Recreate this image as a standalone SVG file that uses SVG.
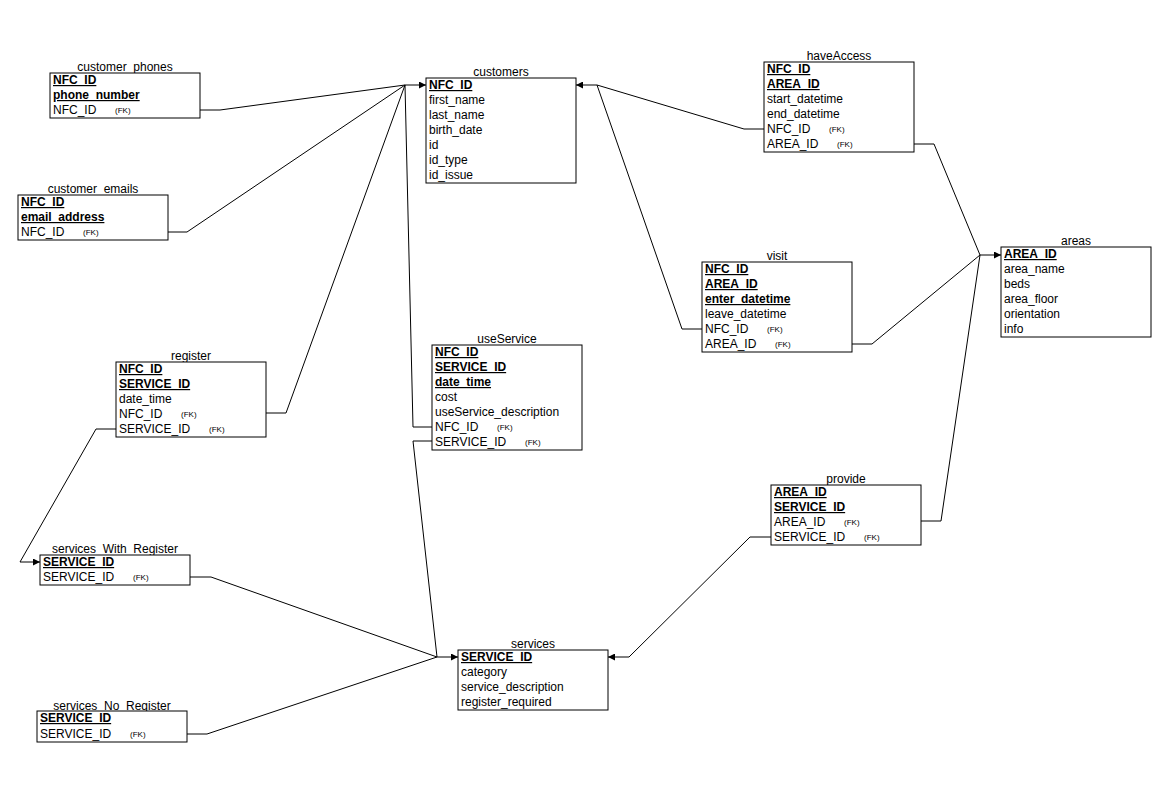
<svg xmlns="http://www.w3.org/2000/svg" width="1166" height="788" viewBox="0 0 1166 788">
<style>
text{font-family:"Liberation Sans",Arial,sans-serif;font-size:12px;fill:#000}
.t{text-anchor:middle}
.k{font-weight:bold;text-decoration:underline}
.fk{font-size:8px}
rect{fill:#fff;stroke:#000;stroke-width:1}
.c path{fill:none;stroke:#000;stroke-width:1}
</style>
<defs><marker id="a" viewBox="0 0 8 8" refX="8" refY="4" markerWidth="7" markerHeight="7" orient="auto" markerUnits="userSpaceOnUse"><path d="M0,0L8,4L0,8z" fill="#000"/></marker></defs>
<rect x="0" y="0" width="1166" height="788" style="stroke:none"/>
<g class="c">
<path d="M200,110H220L405,85H426" marker-end="url(#a)"/>
<path d="M168,232H187L405,85"/>
<path d="M266,413H286L405,85"/>
<path d="M432,427H413L405,85"/>
<path d="M764,129H744L597,85H576" marker-end="url(#a)"/>
<path d="M702,329H682L597,85"/>
<path d="M914,144H934L980,255H1001" marker-end="url(#a)"/>
<path d="M852,344H872L980,255"/>
<path d="M921,521H941L980,255"/>
<path d="M116,429H96L20,562H40" marker-end="url(#a)"/>
<path d="M432,441H413L437,657H458" marker-end="url(#a)"/>
<path d="M190,577H211L437,657"/>
<path d="M187,734H207L437,657"/>
<path d="M771,537H750L629,657H608" marker-end="url(#a)"/>
</g>
<g id="customer_phones"><text class="t" x="125" y="71">customer_phones</text><rect x="50" y="73" width="150" height="45"/>
<text class="k" x="53" y="84">NFC_ID</text><text class="k" x="53" y="99">phone_number</text><text x="53" y="114">NFC_ID</text><text class="fk" x="115" y="113">(FK)</text></g>
<g id="customer_emails"><text class="t" x="93" y="193">customer_emails</text><rect x="18" y="195" width="150" height="45"/>
<text class="k" x="21" y="206">NFC_ID</text><text class="k" x="21" y="221">email_address</text><text x="21" y="236">NFC_ID</text><text class="fk" x="83" y="235">(FK)</text></g>
<g id="customers"><text class="t" x="501" y="76">customers</text><rect x="426" y="78" width="150" height="105"/>
<text class="k" x="429" y="89">NFC_ID</text><text x="429" y="104">first_name</text><text x="429" y="119">last_name</text><text x="429" y="134">birth_date</text><text x="429" y="149">id</text><text x="429" y="164">id_type</text><text x="429" y="179">id_issue</text></g>
<g id="haveAccess"><text class="t" x="839" y="60">haveAccess</text><rect x="764" y="62" width="150" height="90"/>
<text class="k" x="767" y="73">NFC_ID</text><text class="k" x="767" y="88">AREA_ID</text><text x="767" y="103">start_datetime</text><text x="767" y="118">end_datetime</text><text x="767" y="133">NFC_ID</text><text class="fk" x="829" y="132">(FK)</text><text x="767" y="148">AREA_ID</text><text class="fk" x="837" y="147">(FK)</text></g>
<g id="visit"><text class="t" x="777" y="260">visit</text><rect x="702" y="262" width="150" height="90"/>
<text class="k" x="705" y="273">NFC_ID</text><text class="k" x="705" y="288">AREA_ID</text><text class="k" x="705" y="303">enter_datetime</text><text x="705" y="318">leave_datetime</text><text x="705" y="333">NFC_ID</text><text class="fk" x="767" y="332">(FK)</text><text x="705" y="348">AREA_ID</text><text class="fk" x="775" y="347">(FK)</text></g>
<g id="areas"><text class="t" x="1076" y="245">areas</text><rect x="1001" y="247" width="150" height="90"/>
<text class="k" x="1004" y="258">AREA_ID</text><text x="1004" y="273">area_name</text><text x="1004" y="288">beds</text><text x="1004" y="303">area_floor</text><text x="1004" y="318">orientation</text><text x="1004" y="333">info</text></g>
<g id="useService"><text class="t" x="507" y="343">useService</text><rect x="432" y="345" width="150" height="105"/>
<text class="k" x="435" y="356">NFC_ID</text><text class="k" x="435" y="371">SERVICE_ID</text><text class="k" x="435" y="386">date_time</text><text x="435" y="401">cost</text><text x="435" y="416">useService_description</text><text x="435" y="431">NFC_ID</text><text class="fk" x="497" y="430">(FK)</text><text x="435" y="446">SERVICE_ID</text><text class="fk" x="525" y="445">(FK)</text></g>
<g id="register"><text class="t" x="191" y="360">register</text><rect x="116" y="362" width="150" height="75"/>
<text class="k" x="119" y="373">NFC_ID</text><text class="k" x="119" y="388">SERVICE_ID</text><text x="119" y="403">date_time</text><text x="119" y="418">NFC_ID</text><text class="fk" x="181" y="417">(FK)</text><text x="119" y="433">SERVICE_ID</text><text class="fk" x="209" y="432">(FK)</text></g>
<g id="services_With_Register"><text class="t" x="115" y="553">services_With_Register</text><rect x="40" y="555" width="150" height="30"/>
<text class="k" x="43" y="566">SERVICE_ID</text><text x="43" y="581">SERVICE_ID</text><text class="fk" x="133" y="580">(FK)</text></g>
<g id="provide"><text class="t" x="846" y="483">provide</text><rect x="771" y="485" width="150" height="60"/>
<text class="k" x="774" y="496">AREA_ID</text><text class="k" x="774" y="511">SERVICE_ID</text><text x="774" y="526">AREA_ID</text><text class="fk" x="844" y="525">(FK)</text><text x="774" y="541">SERVICE_ID</text><text class="fk" x="864" y="540">(FK)</text></g>
<g id="services"><text class="t" x="533" y="648">services</text><rect x="458" y="650" width="150" height="60"/>
<text class="k" x="461" y="661">SERVICE_ID</text><text x="461" y="676">category</text><text x="461" y="691">service_description</text><text x="461" y="706">register_required</text></g>
<g id="services_No_Register"><text class="t" x="112" y="710">services_No_Register</text><rect x="37" y="711" width="150" height="31"/>
<text class="k" x="40" y="722">SERVICE_ID</text><text x="40" y="738">SERVICE_ID</text><text class="fk" x="130" y="737">(FK)</text></g>
</svg>
